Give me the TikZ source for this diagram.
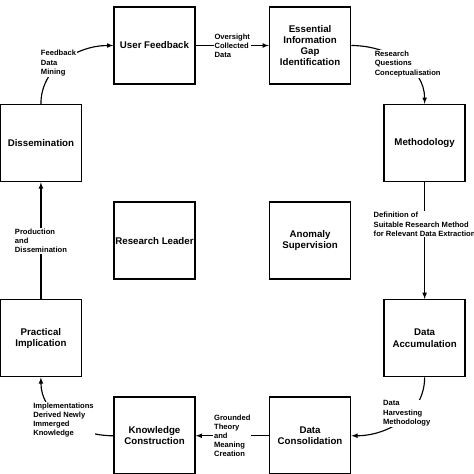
\documentclass[tikz,border=0pt]{standalone}
\usepackage{fontspec}
\setmainfont{Liberation Sans}
\usepackage{tikz}
\usetikzlibrary{arrows}
\usetikzlibrary{positioning}

\begin{document}
\begin{tikzpicture}[->,>=latex,node distance=19pt and 31pt,line width=0.4mm,
	box/.style={draw,line width=0.55mm,minimum width=81pt,minimum height=77pt,inner sep=0pt,align=center,font=\bfseries\fontsize{9.7}{11.3}\selectfont},
	lbl/.style={fill=white,align=left,inner sep=1pt,font=\bfseries\fontsize{7.6}{9.2}\selectfont}]
\useasboundingbox (0,0) rectangle (474pt,-474pt);
\node[box] (UF) at (154.5pt,-45.5pt) {User Feedback};
\node[box] (EI) [right=73pt of UF] {Essential\\Information\\Gap\\Identification};
\node[box] (DS) [below left=of UF] {Dissemination};
\node[box] (ME) [below right=19pt and 32pt of EI] {Methodology};
\node[box] (RL) [below right=of DS] {Research Leader};
\node[box] (AS) [right=73pt of RL] {Anomaly\\Supervision};
\node[box] (PI) [below left=of RL] {Practical\\Implication};
\node[box] (DA) [below right=19pt and 32pt of AS] {Data\\Accumulation};
\node[box] (KC) [below right=of PI] {Knowledge\\Construction};
\node[box] (DC) [right=73pt of KC] {Data\\Consolidation};

\path 	(DS) edge[out=90,in=180] node[lbl,xshift=-5pt,yshift=-2pt] {Feedback\\Data\\Mining} (UF)
		(UF) edge node[lbl] {Oversight\\Collected\\Data} (EI)
		(EI) edge[out=0,in=90] node[lbl,xshift=6pt,yshift=-3pt] {Research\\Questions\\Conceptualisation} (ME)
		(ME) edge node[lbl,pos=0.36] {Definition of\\Suitable Research Method\\for Relevant Data Extraction} (DA)
		(DA) edge[out=-90,in=0] node[lbl,xshift=5pt,yshift=7pt] {Data\\Harvesting\\Methodology} (DC)
		(DC) edge node[lbl] {Grounded\\Theory\\and\\Meaning\\Creation} (KC)
		(KC) edge[out=180,in=-90] node[lbl] {Implementations\\Derived Newly\\Immerged\\Knowledge} (PI)
		(PI) edge node[lbl] {Production\\and\\Dissemination} (DS)
;
\end{tikzpicture}
\end{document}
